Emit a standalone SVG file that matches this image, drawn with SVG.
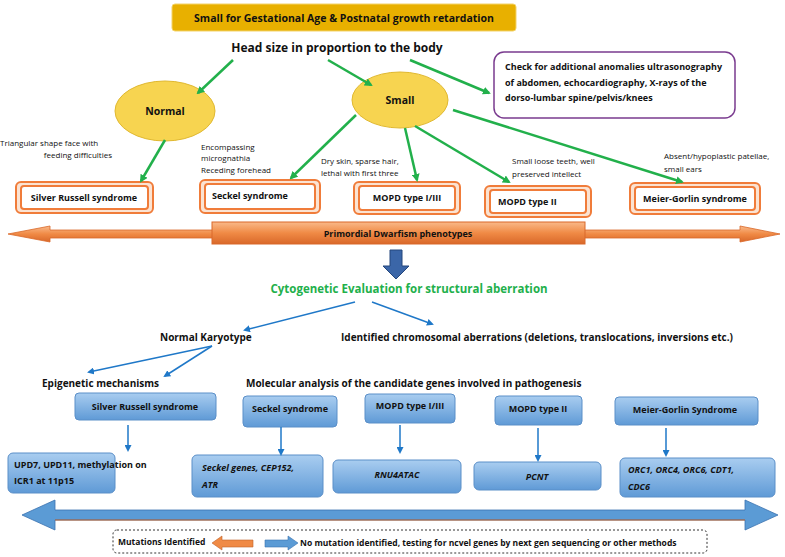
<svg xmlns="http://www.w3.org/2000/svg" width="785" height="557" viewBox="0 0 785 557">
<defs>
<marker id="ga" markerWidth="8" markerHeight="8" refX="6" refY="4" orient="auto" markerUnits="userSpaceOnUse"><path d="M0,0 L8,4 L0,8 z" fill="#22b04b"/></marker>
<marker id="ba" markerWidth="7" markerHeight="7" refX="5" refY="3.5" orient="auto" markerUnits="userSpaceOnUse"><path d="M0,0 L7,3.5 L0,7 z" fill="#1f78c8"/></marker>
<linearGradient id="og" x1="0" y1="0" x2="0" y2="1"><stop offset="0" stop-color="#f9b98a"/><stop offset="0.5" stop-color="#f08a45"/><stop offset="1" stop-color="#d9682a"/></linearGradient>
<linearGradient id="bg" x1="0" y1="0" x2="0" y2="1"><stop offset="0" stop-color="#a9cdf0"/><stop offset="1" stop-color="#5f9ad6"/></linearGradient>
</defs>
<style>
text{font-family:"Open Sans","Liberation Sans",sans-serif;fill:#111}
.s{font-size:9px}
.m{font-size:10.5px;font-weight:bold}
.g{stroke:#22b04b;stroke-width:2.5;fill:none;marker-end:url(#ga)}
.b{stroke:#1f78c8;stroke-width:1.5;fill:none;marker-end:url(#ba)}
.ob{fill:#fff;stroke:#f07c3a;stroke-width:2}
.oo{fill:#fbe3d2;stroke:#f07c3a;stroke-width:2}
.bb{fill:url(#bg);stroke:#5b8fc8;stroke-width:1}
.el{fill:#f7d450;stroke:#e0b830;stroke-width:1}
</style>
<rect width="785" height="557" fill="#fff"/>
<g id="top"><rect x="172" y="4" width="344" height="27" rx="3" fill="#e8b000" stroke="#f3d36a"/><text x="344" y="22" text-anchor="middle" class="m" font-size="11">Small for Gestational Age &amp; Postnatal growth retardation</text></g>
<g id="head"><text x="337" y="52" text-anchor="middle" font-size="12" font-weight="bold">Head size in proportion to the body</text></g>
<g id="check"><rect x="494" y="52" width="241" height="66" rx="10" fill="#fff" stroke="#7a3b8f" stroke-width="1.5"/>
<text class="s" x="505" y="70" font-weight="bold">Check for additional anomalies ultrasonography</text>
<text class="s" x="505" y="86" font-weight="bold">of abdomen, echocardiography, X-rays of the</text>
<text class="s" x="505" y="101" font-weight="bold">dorso-lumbar spine/pelvis/knees</text></g>
<g id="normal"><ellipse class="el" cx="165" cy="111" rx="50" ry="30"/><text x="165" y="115" text-anchor="middle" class="m" font-size="12">Normal</text></g>
<g id="small"><ellipse class="el" cx="400" cy="100" rx="48" ry="28"/><text x="400" y="104" text-anchor="middle" class="m" font-size="12">Small</text></g>
<g id="labels" class="s">
<text x="0" y="146" font-size="8">Triangular shape face with</text>
<text x="112" y="158" font-size="8" text-anchor="end">feeding difficulties</text>
<text x="201" y="150" font-size="8">Encompassing</text>
<text x="201" y="161" font-size="8">micrognathia</text>
<text x="201" y="173" font-size="8">Receding forehead</text>
<text x="321" y="164" font-size="8">Dry skin, sparse hair,</text>
<text x="321" y="176" font-size="8">lethal with first three</text>
<text x="512" y="164" font-size="8">Small loose teeth, well</text>
<text x="512" y="177" font-size="8">preserved intellect</text>
<text x="664" y="159" font-size="8">Absent/hypoplastic patellae,</text>
<text x="664" y="172" font-size="8">small ears</text>
</g>
<g id="sr1"><rect class="oo" x="16" y="182" width="137" height="31" rx="5"/><rect class="ob" x="21" y="186" width="127" height="23" rx="3" stroke-width="1"/><text x="84" y="201" text-anchor="middle" class="s" font-weight="bold">Silver Russell syndrome</text></g>
<g id="sk1"><rect class="oo" x="200" y="180" width="120" height="33" rx="5"/><rect class="ob" x="205" y="184" width="110" height="25" rx="3" stroke-width="1"/><text x="212" y="199" class="s" font-weight="bold">Seckel syndrome</text></g>
<g id="m13a"><rect class="oo" x="354" y="182" width="106" height="32" rx="5"/><rect class="ob" x="359" y="186" width="96" height="24" rx="3" stroke-width="1"/><text x="407" y="201" text-anchor="middle" class="s" font-weight="bold">MOPD type I/III</text></g>
<g id="m2a"><rect class="oo" x="485" y="186" width="106" height="31" rx="5"/><rect class="ob" x="490" y="190" width="96" height="23" rx="3" stroke-width="1"/><text x="498" y="205" class="s" font-weight="bold">MOPD type II</text></g>
<g id="mga"><rect class="oo" x="630" y="183" width="130" height="31" rx="5"/><rect class="ob" x="635" y="187" width="120" height="23" rx="3" stroke-width="1"/><text x="695" y="202" text-anchor="middle" class="s" font-weight="bold">Meier-Gorlin syndrome</text></g>
<g id="pd"><path d="M8,234 L50,226 L50,230 L740,230 L740,226 L780,234 L740,242 L740,238 L50,238 L50,242 z" fill="url(#og)" stroke="#d9682a" stroke-width="0.8"/>
<rect x="212" y="222" width="373" height="22" fill="url(#og)" stroke="#d9682a"/><text x="398" y="237" text-anchor="middle" class="s" font-weight="bold">Primordial Dwarfism phenotypes</text></g>
<g id="down"><path d="M390,250 L402,250 L402,266 L409,266 L396,279 L383,266 L390,266 z" fill="#3b66a8" stroke="#24467c"/></g>
<g id="cyto"><text x="409" y="293" text-anchor="middle" font-size="11.5" font-weight="bold" style="fill:#22b04b">Cytogenetic Evaluation for structural aberration</text></g>
<g id="nk"><text x="160" y="341" font-size="10" font-weight="bold">Normal Karyotype</text></g>
<g id="ica"><text x="341" y="341" font-size="10" font-weight="bold">Identified chromosomal aberrations (deletions, translocations, inversions etc.)</text></g>
<g id="epi"><text x="42" y="387" font-size="10" font-weight="bold">Epigenetic mechanisms</text></g>
<g id="mol"><text x="246" y="387" font-size="10" font-weight="bold">Molecular analysis of the candidate genes involved in pathogenesis</text></g>
<g id="sr2"><rect class="bb" x="75" y="393" width="141" height="27" rx="4"/><text x="145" y="410" text-anchor="middle" class="s" font-weight="bold">Silver Russell syndrome</text></g>
<g id="sk2"><rect class="bb" x="243" y="396" width="94" height="31" rx="4"/><text x="290" y="412" text-anchor="middle" class="s" font-weight="bold">Seckel syndrome</text></g>
<g id="m13b"><rect class="bb" x="365" y="394" width="90" height="29" rx="4"/><text x="410" y="409" text-anchor="middle" class="s" font-weight="bold">MOPD type I/III</text></g>
<g id="m2b"><rect class="bb" x="495" y="396" width="87" height="29" rx="4"/><text x="538" y="412" text-anchor="middle" class="s" font-weight="bold">MOPD type II</text></g>
<g id="mgb"><rect class="bb" x="615" y="397" width="143" height="28" rx="4"/><text x="685" y="413" text-anchor="middle" class="s" font-weight="bold">Meier-Gorlin Syndrome</text></g>
<g id="g1"><rect class="bb" x="8" y="453" width="107" height="40" rx="5"/><text x="14" y="468" class="s" font-weight="bold">UPD7, UPD11, methylation on</text><text x="14" y="484" class="s" font-weight="bold">ICR1 at 11p15</text></g>
<g id="g2"><rect class="bb" x="192" y="455" width="131" height="42" rx="5"/><text x="202" y="471" class="s" font-weight="bold" font-style="italic">Seckel genes, CEP152,</text><text x="202" y="488" class="s" font-weight="bold" font-style="italic">ATR</text></g>
<g id="g3"><rect class="bb" x="333" y="460" width="128" height="33" rx="5"/><text x="397" y="478" text-anchor="middle" class="s" font-weight="bold" font-style="italic">RNU4ATAC</text></g>
<g id="g4"><rect class="bb" x="474" y="462" width="127" height="28" rx="5"/><text x="537" y="480" text-anchor="middle" class="s" font-weight="bold" font-style="italic">PCNT</text></g>
<g id="g5"><rect class="bb" x="620" y="458" width="155" height="39" rx="5"/><text x="628" y="473" class="s" font-weight="bold" font-style="italic">ORC1, ORC4, ORC6, CDT1,</text><text x="628" y="490" class="s" font-weight="bold" font-style="italic">CDC6</text></g>
<g id="bar2"><path d="M22,515 L55,500 L55,510 L745,510 L745,500 L778,515 L745,530 L745,520 L55,520 L55,530 z" fill="#5b9bd5" stroke="#3b72b0" stroke-width="0.8"/><line x1="55" y1="520" x2="745" y2="520" stroke="#c0622a" stroke-width="1.2"/></g>
<g id="legend"><rect x="113" y="530" width="594" height="23" rx="4" fill="#fff" stroke="#333" stroke-dasharray="2,2"/>
<text x="118" y="545" font-size="8.5" font-weight="bold">Mutations Identified</text>
<path d="M212,543 L222,536 L222,540 L253,540 L253,547 L222,547 L222,550 z" fill="#f08a45" stroke="#c0622a" stroke-width="0.6"/>
<path d="M265,540 L288,540 L288,536 L298,543 L288,550 L288,547 L265,547 z" fill="#5b9bd5" stroke="#3b72b0" stroke-width="0.6"/>
<text x="300" y="546" font-size="8.5" font-weight="bold">No mutation identified, testing for ncvel genes by next gen sequencing or other methods</text></g>
<g id="connectors">
<line class="g" x1="233" y1="60" x2="198" y2="93"/>
<line class="g" x1="328" y1="60" x2="371" y2="85"/>
<line class="g" x1="410" y1="60" x2="489" y2="93"/>
<line class="g" x1="165" y1="140" x2="141" y2="181"/>
<line class="g" x1="356" y1="115" x2="291" y2="178"/>
<line class="g" x1="405" y1="128" x2="417" y2="180"/>
<line class="g" x1="415" y1="126" x2="509" y2="182"/>
<line class="g" x1="453" y1="110" x2="682" y2="182"/>
<line class="b" x1="355" y1="302" x2="245" y2="330"/>
<line class="b" x1="372" y1="302" x2="432" y2="324"/>
<line class="b" x1="212" y1="346" x2="89" y2="372"/>
<line class="b" x1="212" y1="346" x2="165" y2="376"/>
<line class="b" x1="128" y1="425" x2="128" y2="450"/>
<line class="b" x1="281" y1="427" x2="281" y2="454"/>
<line class="b" x1="400" y1="425" x2="400" y2="452"/>
<line class="b" x1="538" y1="428" x2="538" y2="460"/>
<line class="b" x1="666" y1="428" x2="666" y2="455"/>
</g>
</svg>
